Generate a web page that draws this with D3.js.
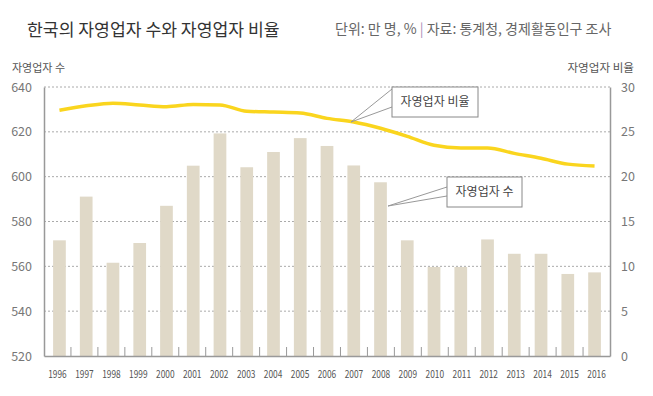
<!DOCTYPE html>
<html><head><meta charset="utf-8">
<script src="https://cdn.jsdelivr.net/npm/d3@7/dist/d3.min.js"></script>
<style>
body{margin:0;background:#fff;}
text{font-family:"Noto Sans CJK KR","Noto Sans",sans-serif;}
</style></head>
<body><svg id="c" width="653" height="396"></svg>
<script>
const years = ["1996","1997","1998","1999","2000","2001","2002","2003","2004","2005","2006","2007","2008","2009","2010","2011","2012","2013","2014","2015","2016"];
const selfEmployed = [571.6,591.1,561.6,570.4,587.0,604.9,619.3,604.2,611.0,617.2,613.7,605.0,597.5,571.6,559.7,559.7,572.0,565.6,565.6,556.6,557.3];
const selfEmployedRate = [27.4,27.9,28.2,28.0,27.8,28.05,28.0,27.3,27.2,27.1,26.5,26.1,25.4,24.5,23.5,23.2,23.2,22.6,22.05,21.4,21.2];
const leftTicks = [520,540,560,580,600,620,640];
const rightTicks = [0,5,10,15,20,25,30];
const title = "한국의 자영업자 수와 자영업자 비율";
const subtitleA = "단위: 만 명, % ";
const subtitleSep = "|";
const subtitleB = " 자료: 통계청, 경제활동인구 조사";
const leftTitle = "자영업자 수";
const rightTitle = "자영업자 비율";
const calloutRate = "자영업자 비율";
const calloutCount = "자영업자 수";

const svg = d3.select("#c");
const L=44, R=610, T=87, B=356;

const x = d3.scaleBand().domain(years).range([L,R]).paddingInner(0.525).paddingOuter(0.34);
const xt = d3.scaleBand().domain(years).range([L,R]);
const yL = d3.scaleLinear().domain([520,640]).range([B,T]);
const yR = d3.scaleLinear().domain([0,30]).range([B,T]);

// title
svg.append("text").attr("x",27).attr("y",36).attr("font-size",17.2).attr("font-weight",400)
  .attr("fill","#333").text(title);
const st = svg.append("text").attr("x",335).attr("y",34).attr("font-size",14).attr("fill","#666");
st.append("tspan").text(subtitleA);
st.append("tspan").attr("fill","#a98fb8").text(subtitleSep);
st.append("tspan").text(subtitleB);
svg.append("text").attr("x",12).attr("y",72).attr("font-size",11).attr("fill","#555").text(leftTitle);
svg.append("text").attr("x",634).attr("y",72).attr("font-size",11.6).attr("fill","#555").attr("text-anchor","end").text(rightTitle);

// gridlines
svg.append("g").selectAll("line").data(leftTicks.slice(1)).join("line")
  .attr("x1",L).attr("x2",R).attr("y1",d=>yL(d)).attr("y2",d=>yL(d))
  .attr("stroke","#aaa").attr("stroke-width",1).attr("stroke-dasharray","2,2");

// bars
svg.append("g").selectAll("rect").data(years).join("rect")
  .attr("x",d=>x(d)).attr("width",x.bandwidth())
  .attr("y",(d,i)=>yL(selfEmployed[i])).attr("height",(d,i)=>B-yL(selfEmployed[i]))
  .attr("fill","#e0d9c8");

// axes
const gl = svg.append("g").attr("transform",`translate(${L},0)`)
  .call(d3.axisLeft(yL).tickValues(leftTicks).tickSize(0).tickPadding(12));
gl.select(".domain").attr("stroke","#999").attr("stroke-width",1.5);
gl.selectAll("text").attr("font-size",12.5).attr("fill","#777").attr("font-family","Liberation Sans, sans-serif");

const gr = svg.append("g").attr("transform",`translate(${R},0)`)
  .call(d3.axisRight(yR).tickValues(rightTicks).tickSize(0).tickPadding(11));
gr.select(".domain").attr("stroke","#999").attr("stroke-width",1.5);
gr.selectAll("text").attr("font-size",12.5).attr("fill","#777").attr("font-family","Liberation Sans, sans-serif");

const gb = svg.append("g").attr("transform",`translate(0,${B})`)
  .call(d3.axisBottom(xt).tickSize(0).tickPadding(14));
gb.select(".domain").attr("stroke","#999").attr("stroke-width",1.5);
gb.selectAll("text").attr("font-size",11).attr("fill","#555").attr("font-family","Liberation Sans, sans-serif")
  .attr("textLength",18.5).attr("lengthAdjust","spacingAndGlyphs");
// inner ticks at band boundaries
svg.append("g").selectAll("line").data(years.slice(1)).join("line")
  .attr("x1",d=>xt(d)).attr("x2",d=>xt(d)).attr("y1",B).attr("y2",B-9)
  .attr("stroke","#999").attr("stroke-width",1);

// line
const line = d3.line().x((d,i)=>x(years[i])+x.bandwidth()/2).y(d=>yR(d)).curve(d3.curveMonotoneX);
svg.append("path").datum(selfEmployedRate).attr("d",line)
  .attr("fill","none").attr("stroke","#fad51e").attr("stroke-width",3.5);

// callouts
function callout(bx,by,bw,bh,px,py,y1,y2,label){
  const g = svg.append("g");
  g.append("path").attr("d",`M${bx},${y1}L${px},${py}L${bx},${y2}`)
    .attr("fill","none").attr("stroke","#999").attr("stroke-width",1);
  g.append("rect").attr("x",bx).attr("y",by).attr("width",bw).attr("height",bh)
    .attr("fill","#fff").attr("stroke","#888").attr("stroke-width",1);
  g.append("text").attr("x",bx+bw/2).attr("y",by+bh/2+4).attr("text-anchor","middle")
    .attr("font-size",12).attr("fill","#444").text(label);
}
callout(392,87,86,30,351,122,89,107,calloutRate);
callout(447,177,75,30,388,206,187,196,calloutCount);
</script></body></html>
